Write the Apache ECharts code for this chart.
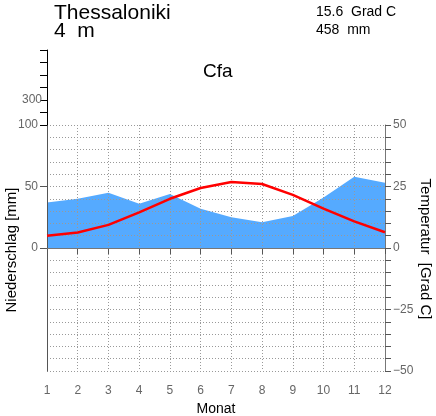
<!DOCTYPE html>
<html><head><meta charset="utf-8">
<script src="https://cdn.jsdelivr.net/npm/echarts@6/dist/echarts.min.js"></script>
<style>html,body{margin:0;padding:0;background:#fff}#c{width:436px;height:416px}</style>
</head><body><div id="c"></div>
<script>
const months = [1,2,3,4,5,6,7,8,9,10,11,12];
const precipitation = [37,40,45,36,44,32,25,21,26,41,58,53];
const temperature = [5.0,6.3,9.4,14.5,20.0,24.4,26.8,26.0,21.6,16.0,10.8,6.4];
const precipLabels = [0,50,100];
const precipUpperLabels = [300];
const tempLabels = [-50,-25,0,25,50];

const FONT = 'Liberation Sans';
const GRAY = '#666';
const chart = echarts.init(document.getElementById('c'));
const dotted = {show:true, lineStyle:{color:'#999', type:[1,2], width:1}};
chart.setOption({
  animation:false,
  textStyle:{fontFamily:FONT},
  grid:[
    {left:47, top:125, width:338, height:246},
    {left:47, top:50, width:338, height:75}
  ],
  xAxis:[
    {gridIndex:0, type:'value', min:1, max:12, interval:1, position:'bottom',
     axisLine:{lineStyle:{color:'#777'}},
     axisTick:{show:true, length:6, lineStyle:{color:'#555'}},
     axisLabel:{color:GRAY, fontSize:12, margin:14, fontFamily:FONT},
     splitLine:dotted},
    {gridIndex:0, type:'value', min:1, max:12, position:'top',
     axisLine:{show:true, lineStyle:{color:'#777'}},
     axisTick:{show:false}, axisLabel:{show:false}, splitLine:{show:false}},
    {gridIndex:1, type:'value', min:1, max:12, show:false}
  ],
  yAxis:[
    {gridIndex:0, type:'value', min:-100, max:100, interval:10, position:'left',
     axisLine:{show:true, lineStyle:{color:'#555'}},
     axisTick:{show:true, length:7, customValues:precipLabels, lineStyle:{color:'#555'}},
     axisLabel:{color:GRAY, fontSize:12, margin:9, customValues:precipLabels, fontFamily:FONT},
     splitLine:{show:false}},
    {gridIndex:0, type:'value', min:-50, max:50, interval:5, position:'right',
     axisLine:{show:true, lineStyle:{color:'#777'}},
     axisTick:{show:true, length:6, lineStyle:{color:'#555'}},
     axisLabel:{color:GRAY, fontSize:12, margin:8, customValues:tempLabels, fontFamily:FONT,
       formatter:v=>String(v).replace('-','\u2212')},
     splitLine:dotted},
    {gridIndex:1, type:'value', min:100, max:700, interval:100, position:'left',
     axisLine:{show:true, lineStyle:{color:'#000', width:1}},
     axisTick:{show:true, length:7, lineStyle:{color:'#000', width:1}},
     axisLabel:{color:GRAY, fontSize:12, margin:5, customValues:precipUpperLabels, fontFamily:FONT},
     splitLine:{show:false}}
  ],
  series:[
    {type:'line', xAxisIndex:0, yAxisIndex:0, symbol:'none',
     data:months.map((m,i)=>[m,precipitation[i]]),
     lineStyle:{width:0}, areaStyle:{color:'#55aaff', opacity:1, origin:0},
     markLine:{silent:true, symbol:'none', label:{show:false},
       lineStyle:{color:'#777', type:'solid', width:1}, data:[{yAxis:0}]},
     z:-1},
    {type:'line', xAxisIndex:0, yAxisIndex:1, symbol:'none',
     data:months.map((m,i)=>[m,temperature[i]]),
     lineStyle:{color:'#ff0000', width:2.5}, z:4},
    {type:'line', xAxisIndex:2, yAxisIndex:2, data:[]}
  ],
  graphic:[
    {type:'text', left:54, top:3, style:{text:'Thessaloniki', font:'21px '+FONT, fill:'#000'}},
    {type:'text', left:54, top:21, style:{text:'4  m', font:'21px '+FONT, fill:'#000'}},
    {type:'text', left:316, top:5, style:{text:'15.6  Grad C', font:'14px '+FONT, fill:'#000'}},
    {type:'text', left:316, top:23, style:{text:'458  mm', font:'14px '+FONT, fill:'#000'}},
    {type:'text', left:203, top:62, style:{text:'Cfa', font:'19px '+FONT, fill:'#000'}},
    {type:'text', x:12, y:250, rotation:Math.PI/2,
     style:{text:'Niederschlag [mm]', font:'15px '+FONT, fill:'#000', align:'center', verticalAlign:'middle'}},
    {type:'text', x:425, y:249, rotation:-Math.PI/2,
     style:{text:'Temperatur  [Grad C]', font:'15px '+FONT, fill:'#000', align:'center', verticalAlign:'middle'}},
    {type:'text', x:216, y:409, style:{text:'Monat', font:'14px '+FONT, fill:'#000', align:'center', verticalAlign:'middle'}}
  ]
});
</script></body></html>
